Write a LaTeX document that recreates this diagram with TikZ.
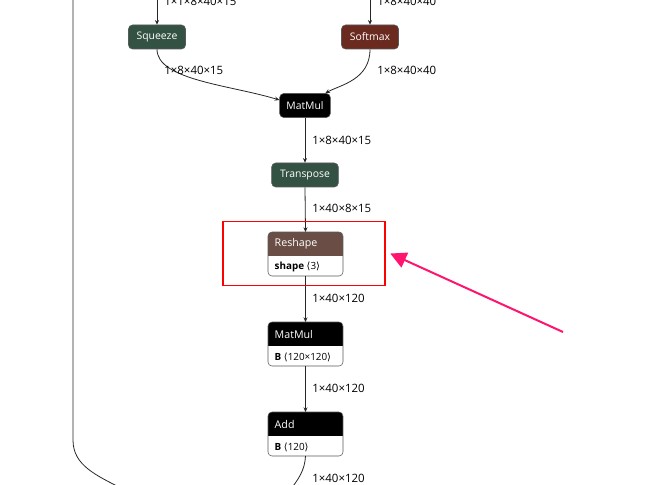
\documentclass[tikz,border=0pt]{standalone}
\usepackage{fontspec}
\setmainfont{Open Sans}
\newfontfamily\dvs{DejaVu Sans}
\usetikzlibrary{arrows.meta}
\definecolor{grn}{HTML}{335244}
\definecolor{sfm}{HTML}{6B2A20}
\definecolor{rsh}{HTML}{6A4E45}
\newcommand{\lang}{{\dvs ⟨}}
\newcommand{\rang}{{\dvs ⟩}}
\begin{document}
\begin{tikzpicture}[x=0.75pt,y=-0.75pt,
  op/.style={draw=gray!70!black,rounded corners=3pt,text=white,font=\fontsize{7.8}{9}\selectfont,minimum height=18pt,inner xsep=4pt,anchor=center},
  lbl/.style={font=\fontsize{8.6}{9}\selectfont,anchor=west,inner sep=0pt},
  ed/.style={draw=black!85,line width=0.6pt,-{Stealth[length=3.5pt,width=3pt]}}]
\useasboundingbox (0,0) rectangle (658,485);
\node[op,fill=grn,minimum width=42.75pt] (sq) at (157,37) {Squeeze};
\node[op,fill=sfm,minimum width=42.75pt] (sm) at (370,37) {Softmax};
\node[op,fill=black,minimum width=38pt] (mm) at (305,105.5) {MatMul};
\node[op,fill=grn,minimum width=50pt] (tr) at (305,175) {Transpose};
\newcommand{\twobox}[5]{%
  \fill[white,rounded corners=3pt] (268,#2) rectangle (343,#2+44);
  \begin{scope}\clip[rounded corners=3pt] (268,#2) rectangle (343,#2+44);
  \fill[#3] (268,#2) rectangle (343,#2+24);\end{scope}
  \draw[gray!70!black,rounded corners=3pt] (268,#2) rectangle (343,#2+44);
  \node[text=white,font=\fontsize{8}{9}\selectfont,anchor=west] at (270,#2+12) {#4};
  \node[font=\fontsize{7.4}{8}\selectfont,anchor=west] at (270,#2+35) {#5};
  \coordinate (#1t) at (305.5,#2); \coordinate (#1b) at (305.5,#2+44);}
\twobox{rs}{232}{rsh}{Reshape}{\textbf{shape} \lang3\rang}
\twobox{m2}{322}{black}{MatMul}{\textbf{B} \lang120×120\rang}
\twobox{ad}{412}{black}{Add}{\textbf{B} \lang120\rang}
\coordinate (sqin) at (157,-5); \coordinate (smin) at (370,-5);
\draw[ed] (sqin) -- (sq.north);
\draw[ed] (smin) -- (sm.north);
\draw[ed] (sq.south) .. controls (157,80) and (230,85) .. (mm.west|-0,100);
\draw[ed] (sm.south) .. controls (370,80) and (340,85) .. ([xshift=-4pt]mm.north east);
\draw[ed] (mm.south) -- (tr.north);
\draw[ed] (tr.south) -- (rst);
\draw[ed] (rsb) -- (m2t);
\draw[ed] (m2b) -- (adt);
\coordinate (ado) at (290,490);
\draw[black!85,line width=0.6pt] (adb) .. controls (305,470) and (298,480) .. (ado);
\coordinate (l0) at (73,-5); \coordinate (l1) at (125,490);
\draw[black!85,line width=0.6pt] (l0) -- (73,440) .. controls (73,465) and (95,475) .. (l1);
\node[lbl] at (164,1) {1×1×8×40×15};
\node[lbl] at (377,1) {1×8×40×40};
\node[lbl] at (164,70) {1×8×40×15};
\node[lbl] at (377,70) {1×8×40×40};
\node[lbl] at (312,140) {1×8×40×15};
\node[lbl] at (312,208) {1×40×8×15};
\node[lbl] at (312,298) {1×40×120};
\node[lbl] at (312,388) {1×40×120};
\node[lbl] at (312,478) {1×40×120};
\node[draw=red,line width=1.4pt,minimum width=122pt,minimum height=48pt,inner sep=0pt] (hl) at (304,253.5) {};
\coordinate (pa) at (563,332);
\draw[line width=1.5pt,draw={rgb,255:red,255;green,20;blue,110},-{Triangle[length=12pt,width=12pt]}] (pa) -- ([xshift=3pt]hl.east);
\end{tikzpicture}
\end{document}
